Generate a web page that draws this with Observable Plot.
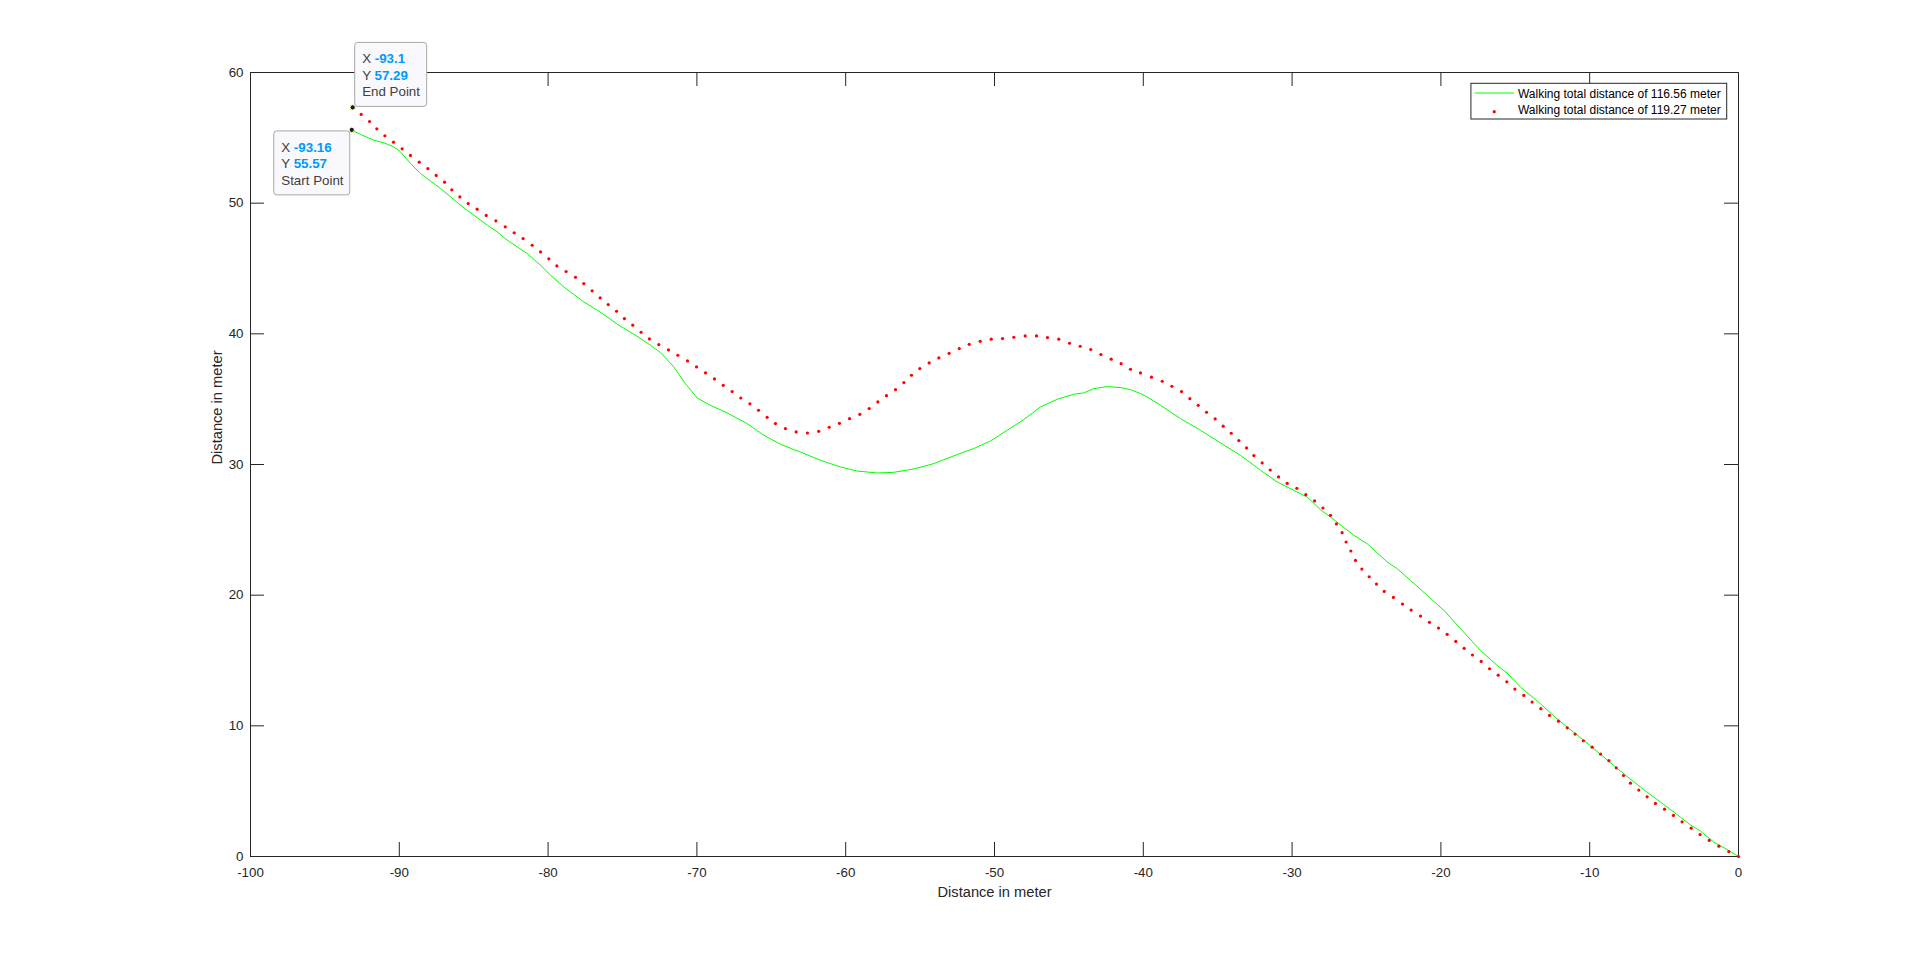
<!DOCTYPE html>
<html><head><meta charset="utf-8">
<script src="https://cdn.jsdelivr.net/npm/d3@7"></script>
<script src="https://cdn.jsdelivr.net/npm/@observablehq/plot@0.6"></script>
<style>html,body{margin:0;padding:0;background:#fff;overflow:hidden}</style>
</head><body><div id="chart"></div>
<script>
// ---- data ----
const xTicks = [-100, -90, -80, -70, -60, -50, -40, -30, -20, -10, 0];
const yTicks = [0, 10, 20, 30, 40, 50, 60];
const xLabel = "Distance in meter";
const yLabel = "Distance in meter";
const seriesNames = ["Walking total distance of 116.56 meter", "Walking total distance of 119.27 meter"];

const greenX = [-93.16, -92.61, -91.71, -91.04, -90.37, -89.92, -89.25, -88.58, -87.23, -85.89, -85.44, -84.09, -83.42, -82.75, -81.41, -80.51, -79.84, -78.94, -78.27, -77.60, -76.70, -76.03, -75.36, -74.69, -74.24, -73.79, -73.12, -72.45, -71.55, -70.77, -69.98, -69.09, -67.97, -66.62, -65.50, -64.38, -63.49, -63.04, -61.69, -60.35, -59.23, -57.88, -56.77, -55.42, -54.08, -52.51, -51.39, -50.27, -49.15, -48.03, -46.91, -45.79, -44.67, -44.00, -43.32, -42.43, -41.53, -40.86, -40.19, -39.74, -38.84, -37.50, -36.16, -34.81, -33.47, -32.12, -31.00, -29.88, -28.99, -28.09, -27.42, -25.85, -24.96, -23.61, -22.94, -22.04, -20.92, -19.80, -18.68, -17.34, -16.22, -15.55, -14.65, -13.31, -12.07, -10.39, -9.05, -7.93, -6.59, -5.24, -3.90, -3.23, -2.55, -1.66, -0.65, 0];
const greenY = [55.57, 55.26, 54.82, 54.62, 54.31, 53.93, 53.04, 52.27, 51.12, 49.85, 49.46, 48.32, 47.80, 47.17, 46.15, 45.25, 44.49, 43.59, 43.01, 42.44, 41.81, 41.30, 40.74, 40.28, 39.97, 39.64, 39.13, 38.57, 37.47, 36.19, 35.09, 34.53, 33.95, 33.13, 32.24, 31.55, 31.14, 30.96, 30.32, 29.81, 29.50, 29.35, 29.40, 29.66, 30.07, 30.76, 31.22, 31.80, 32.62, 33.44, 34.41, 34.99, 35.38, 35.48, 35.81, 35.96, 35.89, 35.73, 35.43, 35.17, 34.53, 33.51, 32.62, 31.65, 30.70, 29.56, 28.66, 28.02, 27.51, 26.54, 25.98, 24.58, 23.94, 22.54, 22.03, 21.13, 19.98, 18.84, 17.43, 15.77, 14.62, 14.04, 12.97, 11.69, 10.41, 8.88, 7.61, 6.53, 5.31, 4.16, 3.01, 2.42, 1.94, 1.10, 0.46, 0];

const redX = [-93.10, -92.56, -92.00, -91.51, -90.97, -90.39, -89.81, -89.25, -88.66, -88.08, -87.52, -86.96, -86.47, -85.93, -85.37, -84.77, -84.16, -83.51, -82.88, -82.28, -81.68, -81.07, -80.51, -79.95, -79.41, -78.79, -78.16, -77.60, -77.04, -76.50, -75.96, -75.40, -74.87, -74.31, -73.75, -73.19, -72.56, -71.91, -71.28, -70.63, -70.03, -69.42, -68.82, -68.23, -67.63, -67.05, -66.44, -65.86, -65.28, -64.72, -64.05, -63.33, -62.57, -61.81, -61.11, -60.42, -59.74, -59.05, -58.42, -57.84, -57.26, -56.65, -56.09, -55.58, -55.02, -54.39, -53.74, -53.05, -52.37, -51.70, -50.96, -50.22, -49.46, -48.70, -47.94, -47.18, -46.44, -45.68, -44.96, -44.24, -43.53, -42.85, -42.16, -41.49, -40.86, -40.19, -39.45, -38.73, -38.08, -37.43, -36.87, -36.31, -35.75, -35.17, -34.63, -34.09, -33.58, -33.06, -32.57, -32.01, -31.47, -30.91, -30.33, -29.68, -29.08, -28.49, -27.93, -27.42, -27.02, -26.64, -26.37, -26.05, -25.74, -25.31, -24.82, -24.33, -23.81, -23.19, -22.58, -22.00, -21.37, -20.77, -20.16, -19.58, -19.00, -18.44, -17.88, -17.29, -16.73, -16.15, -15.57, -15.03, -14.43, -13.87, -13.28, -12.70, -12.10, -11.51, -10.98, -10.42, -9.83, -9.27, -8.71, -8.22, -7.73, -7.26, -6.70, -6.14, -5.58, -4.97, -4.37, -3.79, -3.18, -2.58, -1.97, -1.32, -0.65, 0];
const redY = [57.29, 56.79, 56.25, 55.69, 55.16, 54.67, 54.16, 53.65, 53.14, 52.65, 52.12, 51.61, 51.02, 50.48, 49.97, 49.54, 49.06, 48.65, 48.19, 47.73, 47.29, 46.78, 46.27, 45.74, 45.20, 44.77, 44.33, 43.85, 43.29, 42.75, 42.24, 41.73, 41.17, 40.66, 40.12, 39.61, 39.18, 38.77, 38.36, 37.93, 37.47, 37.01, 36.55, 36.06, 35.58, 35.09, 34.64, 34.15, 33.61, 33.13, 32.75, 32.49, 32.41, 32.54, 32.85, 33.15, 33.51, 33.84, 34.28, 34.79, 35.27, 35.73, 36.27, 36.83, 37.34, 37.77, 38.16, 38.51, 38.87, 39.20, 39.43, 39.59, 39.64, 39.74, 39.84, 39.84, 39.71, 39.59, 39.28, 39.05, 38.80, 38.41, 38.06, 37.72, 37.29, 37.01, 36.68, 36.37, 35.99, 35.58, 35.04, 34.53, 34.00, 33.49, 32.93, 32.39, 31.83, 31.27, 30.68, 30.12, 29.58, 29.05, 28.56, 28.18, 27.69, 27.21, 26.67, 26.11, 25.45, 24.78, 24.07, 23.38, 22.66, 22.00, 21.41, 20.85, 20.29, 19.83, 19.32, 18.86, 18.40, 17.92, 17.48, 17.00, 16.46, 15.93, 15.42, 14.93, 14.37, 13.88, 13.37, 12.81, 12.33, 11.82, 11.31, 10.80, 10.36, 9.85, 9.37, 8.86, 8.37, 7.84, 7.33, 6.79, 6.20, 5.61, 5.08, 4.57, 4.06, 3.62, 3.14, 2.65, 2.17, 1.68, 1.23, 0.79, 0.38, 0];

const tipX = [-93.1, -93.16];
const tipY = [57.29, 55.57];
const tipLabelX = ["-93.1", "-93.16"];
const tipLabelY = ["57.29", "55.57"];
const tipName = ["End Point", "Start Point"];
const tipSide = ["upright", "downleft"];

// ---- layout ----
const W = 1920, H = 963, mL = 250, mR = 182, mT = 72, mB = 107;
const fw = W - mL - mR, fh = H - mT - mB;
const axisColor = "#262626";
const font = '"Liberation Sans", Arial, Helvetica, sans-serif';
const tickLen = 14;

const green = greenX.map((x, i) => ({x, y: greenY[i]}));
const red = redX.map((x, i) => ({x, y: redY[i]}));
const tips = tipX.map((x, i) => ({x, y: tipY[i], lx: tipLabelX[i], ly: tipLabelY[i], name: tipName[i], side: tipSide[i]}));

const plot = Plot.plot({
  width: W, height: H,
  marginLeft: mL, marginRight: mR, marginTop: mT, marginBottom: mB,
  x: {domain: [-100, 0], axis: null},
  y: {domain: [0, 60], axis: null},
  style: {fontFamily: font, background: "#fff", overflow: "visible"},
  marks: [
    Plot.frame({stroke: axisColor, strokeWidth: 1}),
    Plot.tickX(xTicks, {x: d => d, stroke: axisColor, insetTop: fh - tickLen}),
    Plot.tickX(xTicks, {x: d => d, stroke: axisColor, insetBottom: fh - tickLen}),
    Plot.tickY(yTicks, {y: d => d, stroke: axisColor, insetRight: fw - tickLen}),
    Plot.tickY(yTicks, {y: d => d, stroke: axisColor, insetLeft: fw - tickLen}),
    Plot.text(xTicks, {x: d => d, frameAnchor: "bottom", lineAnchor: "top", dy: 11, text: d => String(d), fontSize: 13.33, fill: axisColor}),
    Plot.text(yTicks, {y: d => d, frameAnchor: "left", textAnchor: "end", dx: -7, text: d => String(d), fontSize: 13.33, fill: axisColor}),
    Plot.text([xLabel], {frameAnchor: "bottom", lineAnchor: "bottom", dy: 40, text: d => d, fontSize: 14.67, fill: axisColor}),
    Plot.text([yLabel], {frameAnchor: "left", lineAnchor: "bottom", rotate: -90, dx: -29, text: d => d, fontSize: 14.67, fill: axisColor}),
    Plot.line(green, {x: "x", y: "y", stroke: "#00ff00", strokeWidth: 1}),
    Plot.dot(red, {x: "x", y: "y", r: 1.6, fill: "#ff0000"})
  ]
});
document.getElementById("chart").appendChild(plot);

// ---- overlays: data tips and legend, positioned through Plot's scales ----
const sx = plot.scale("x"), sy = plot.scale("y");
const px = v => sx.apply ? sx.apply(v) : mL + (v - sx.domain[0]) / (sx.domain[1] - sx.domain[0]) * fw;
const py = v => sy.apply ? sy.apply(v) : mT + fh - (v - sy.domain[0]) / (sy.domain[1] - sy.domain[0]) * fh;

const svg = d3.select(plot);
const over = svg.append("g").attr("font-family", font).attr("text-anchor", "start");

tips.forEach(t => {
  const x0 = px(t.x), y0 = py(t.y);
  const g = over.append("g");
  const rect = g.append("rect");
  const tg = g.append("g").attr("font-size", 13.33).attr("text-anchor", "start");
  const l1 = tg.append("text").attr("y", 20.7);
  l1.append("tspan").attr("fill", "#404040").text("X ");
  l1.append("tspan").attr("fill", "#0099ff").attr("font-weight", "bold").text(t.lx);
  const l2 = tg.append("text").attr("y", 37.3);
  l2.append("tspan").attr("fill", "#404040").text("Y ");
  l2.append("tspan").attr("fill", "#0099ff").attr("font-weight", "bold").text(t.ly);
  tg.append("text").attr("y", 54).attr("fill", "#404040").text(t.name);
  tg.selectAll("text").attr("x", 7.5);
  let tw = 0;
  tg.selectAll("text").each(function() { tw = Math.max(tw, this.getComputedTextLength()); });
  const bw = Math.round(tw + 14), bh = 64;
  rect.attr("width", bw).attr("height", bh).attr("rx", 3).attr("ry", 3)
      .attr("fill", "#f8f8fd").attr("stroke", "#a8a8a8").attr("stroke-width", 1);
  let left, top;
  if (t.side === "upright") { left = x0 + 2; top = y0 - 1 - bh; }
  else { left = x0 - 2 - bw; top = y0 + 1; }
  g.attr("transform", `translate(${left},${top})`);
});
// data-tip markers on top
over.selectAll("circle.tipdot").data(tips).join("circle")
  .attr("cx", d => px(d.x)).attr("cy", d => py(d.y)).attr("r", 2.6)
  .attr("fill", "#1a1a1a").attr("stroke", "#ffffc4").attr("stroke-width", 1);

// legend
const lg = over.append("g").attr("text-anchor", "start");
const lrect = lg.append("rect");
const lt1 = lg.append("text").attr("font-size", 12).attr("fill", "#000").text(seriesNames[0]);
const lt2 = lg.append("text").attr("font-size", 12).attr("fill", "#000").text(seriesNames[1]);
const ltw = Math.max(lt1.node().getComputedTextLength(), lt2.node().getComputedTextLength());
const lw = 47 + ltw + 6, lh = 35.7;
const lRight = mL + fw - 11.3, lTop = mT + 11.3;
const lLeft = lRight - lw;
lrect.attr("x", lLeft).attr("y", lTop).attr("width", lw).attr("height", lh)
     .attr("fill", "#fff").attr("stroke", axisColor).attr("stroke-width", 1);
lrect.lower();
lg.append("line").attr("x1", lLeft + 4).attr("x2", lLeft + 43.3).attr("y1", lTop + 9.7).attr("y2", lTop + 9.7)
  .attr("stroke", "#00ff00").attr("stroke-width", 1);
lg.append("circle").attr("cx", lLeft + 23.3).attr("cy", lTop + 28.4).attr("r", 1.6).attr("fill", "#ff0000");
lt1.attr("x", lLeft + 47).attr("y", lTop + 15);
lt2.attr("x", lLeft + 47).attr("y", lTop + 31);
</script>
</body></html>
